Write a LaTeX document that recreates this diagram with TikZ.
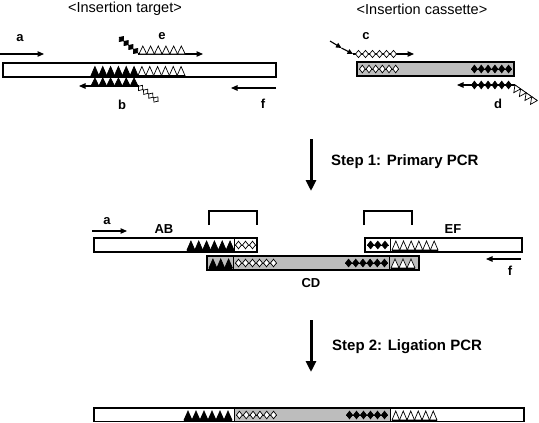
\documentclass[tikz,border=0pt]{standalone}
\usepackage{fontspec}
\setmainfont{Liberation Sans}
\usetikzlibrary{arrows.meta}
\definecolor{cgray}{gray}{0.74}
\newcommand{\TriRow}[6]{%
  \foreach \ii in {1,...,#2}{%
    \filldraw[fill=#6,draw=black,line width=0.7pt]
      ({#1+(\ii-1)*#3},#4) -- ({#1+(\ii-0.5)*#3},{#4-#5}) -- ({#1+\ii*#3},#4) -- cycle;}}
\newcommand{\DiaRow}[6]{%
  \draw[line width=0.8pt] (#1,#4) -- ({#1+#2*#3},#4);
  \foreach \ii in {1,...,#2}{%
    \filldraw[fill=#6,draw=black,line width=0.7pt]
      ({#1+(\ii-1)*#3+0.5},#4) -- ({#1+(\ii-0.5)*#3},{#4-#5}) -- ({#1+\ii*#3-0.5},#4) -- ({#1+(\ii-0.5)*#3},{#4+#5}) -- cycle;}}
\tikzset{
  bar/.style={draw=black,line width=1.2pt},
  parrow/.style={line width=1.2pt,-{Triangle[length=6.5pt,width=5.5pt]}},
  bigarrow/.style={line width=3pt,-{Triangle[length=11pt,width=10pt]}},
  lab/.style={font=\bfseries\fontsize{13}{13}\selectfont,inner sep=0pt},
  title/.style={font=\fontsize{14.5}{15}\selectfont,inner sep=0pt},
  steptext/.style={font=\bfseries\fontsize{15}{16}\selectfont,inner sep=0pt,anchor=west},
  bracket/.style={line width=1.5pt}
}
\begin{document}
\begin{tikzpicture}[x=1pt,y=-1pt]
\useasboundingbox (0,0) rectangle (539,423);
% titles
\node[title] (t1) at (125,9) {<Insertion target>};
\node[title] (t2) at (422,9) {<Insertion cassette>};
% ---------- insertion target ----------
\draw[bar,fill=white] (3,63) rectangle (276,77);
\TriRow{91}{6}{7.83}{75.5}{9}{black}
\TriRow{138}{6}{7.83}{75.5}{9}{white}
% primer a
\coordinate (a1) at (0,54); \coordinate (a2) at (44,54);
\draw[parrow] (a1) -- (a2);
\node[lab] (la) at (20,38) {a};
% primer e
\coordinate (e1) at (138,54); \coordinate (e2) at (203,54);
\draw[parrow] (e1) -- (e2);
\TriRow{139}{6}{7.7}{54}{8}{white}
\begin{scope}[shift={(138,53)},rotate=140]
  \DiaRow{0}{4}{6.2}{0}{3.3}{black}
\end{scope}
\node[lab] (le) at (162,36) {e};
% primer b
\coordinate (b1) at (139,86); \coordinate (b2) at (79,86);
\draw[parrow] (b1) -- (b2);
\TriRow{91}{6}{7.83}{86}{8}{black}
\begin{scope}[shift={(138,86)},rotate=-37]
  \DiaRow{0}{4}{6.4}{0}{3.3}{white}
\end{scope}
\node[lab] (lb) at (122,105) {b};
% primer f
\coordinate (f1) at (276,88); \coordinate (f2) at (231,88);
\draw[parrow] (f1) -- (f2);
\node[lab] (lf) at (263,104) {f};
% ---------- insertion cassette ----------
\draw[bar,fill=cgray] (357,62) rectangle (514,76);
\DiaRow{359}{6}{6.67}{69}{3.8}{white}
\DiaRow{471}{6}{6.83}{69}{3.8}{black}
% primer c
\coordinate (c1) at (353,54); \coordinate (c2) at (414,54);
\draw[parrow] (c1) -- (c2);
\DiaRow{355}{6}{7}{54}{3.6}{white}
\coordinate (c0) at (330,41); \coordinate (cm) at (341.5,48);
\draw[line width=1.1pt,-{Triangle[length=5.5pt,width=5pt]}] (c0) -- (cm);
\draw[line width=1.1pt,-{Triangle[length=5.5pt,width=5pt]}] (cm) -- (c1);
\node[lab] (lc) at (366,36) {c};
% primer d
\coordinate (d1) at (515,85); \coordinate (d2) at (457,85);
\draw[parrow] (d1) -- (d2);
\DiaRow{471}{6}{6.83}{85}{3.8}{black}
\begin{scope}[shift={(515,85)},rotate=-35]
  \draw[line width=0.8pt] (0,0) -- (27,0);
  \TriRow{0}{4}{6.8}{0}{-7}{white}
\end{scope}
\node[lab] (ld) at (498,104) {d};
% ---------- step 1 ----------
\coordinate (s1a) at (311,139); \coordinate (s1b) at (311,191);
\draw[bigarrow] (s1a) -- (s1b);
\node[steptext] (st1) at (331,162) {Step 1: Primary PCR};
% ---------- primary PCR products ----------
% AB
\draw[bar,fill=white] (94,238) rectangle (257,252);
\TriRow{187}{6}{7.83}{250}{9}{black}
\draw[line width=0.7pt] (187,250) -- (234,250);
\DiaRow{235}{3}{7}{245}{3.8}{white}
\draw[line width=1pt] (234,238) -- (234,252);
\draw[bracket] (209,225) -- (209,211) -- (257,211) -- (257,225);
\coordinate (ma1) at (92,231); \coordinate (ma2) at (127,231);
\draw[parrow] (ma1) -- (ma2);
\node[lab] (lma) at (107,221) {a};
\node[lab] (lab) at (164,229) {AB};
% CD
\draw[bar,fill=cgray] (207,256) rectangle (419,270);
\TriRow{209}{3}{7.83}{268}{9}{black}
\draw[line width=0.7pt] (209,268) -- (232,268);
\draw[line width=1pt] (233,256) -- (233,270);
\DiaRow{235}{6}{7}{263}{3.8}{white}
\DiaRow{345}{6}{7.17}{263}{3.8}{black}
\draw[line width=1pt] (389,256) -- (389,270);
\TriRow{391}{3}{8}{268}{9}{white}
\draw[line width=0.7pt] (391,268) -- (415,268);
\node[lab] (lcd) at (311,283) {CD};
% EF
\draw[bar,fill=white] (365,238) rectangle (522,252);
\DiaRow{367}{3}{7.2}{245}{3.8}{black}
\draw[line width=1pt] (390,238) -- (390,252);
\TriRow{392}{6}{7.67}{250}{9}{white}
\draw[line width=0.7pt] (392,250) -- (438,250);
\draw[bracket] (364,225) -- (364,211) -- (412,211) -- (412,225);
\node[lab] (lef) at (453,229) {EF};
\coordinate (mf1) at (521,259); \coordinate (mf2) at (486,259);
\draw[parrow] (mf1) -- (mf2);
\node[lab] (lmf) at (510,271) {f};
% ---------- step 2 ----------
\coordinate (s2a) at (311,320); \coordinate (s2b) at (311,372);
\draw[bigarrow] (s2a) -- (s2b);
\node[steptext] (st2) at (332,347) {Step 2: Ligation PCR};
% ---------- final product ----------
\fill[cgray] (234,408) rectangle (390,421.5);
\draw[bar] (94,408) rectangle (524,421.5);
\TriRow{184}{6}{8}{420}{9}{black}
\draw[line width=0.7pt] (184,420) -- (232,420);
\draw[line width=1pt] (234,408) -- (234,421.5);
\DiaRow{236}{6}{6.83}{415}{3.8}{white}
\DiaRow{346}{6}{7}{415}{3.8}{black}
\draw[line width=1pt] (390,408) -- (390,421.5);
\TriRow{392}{6}{7.5}{420}{9}{white}
\draw[line width=0.7pt] (392,420) -- (437,420);
\end{tikzpicture}
\end{document}
